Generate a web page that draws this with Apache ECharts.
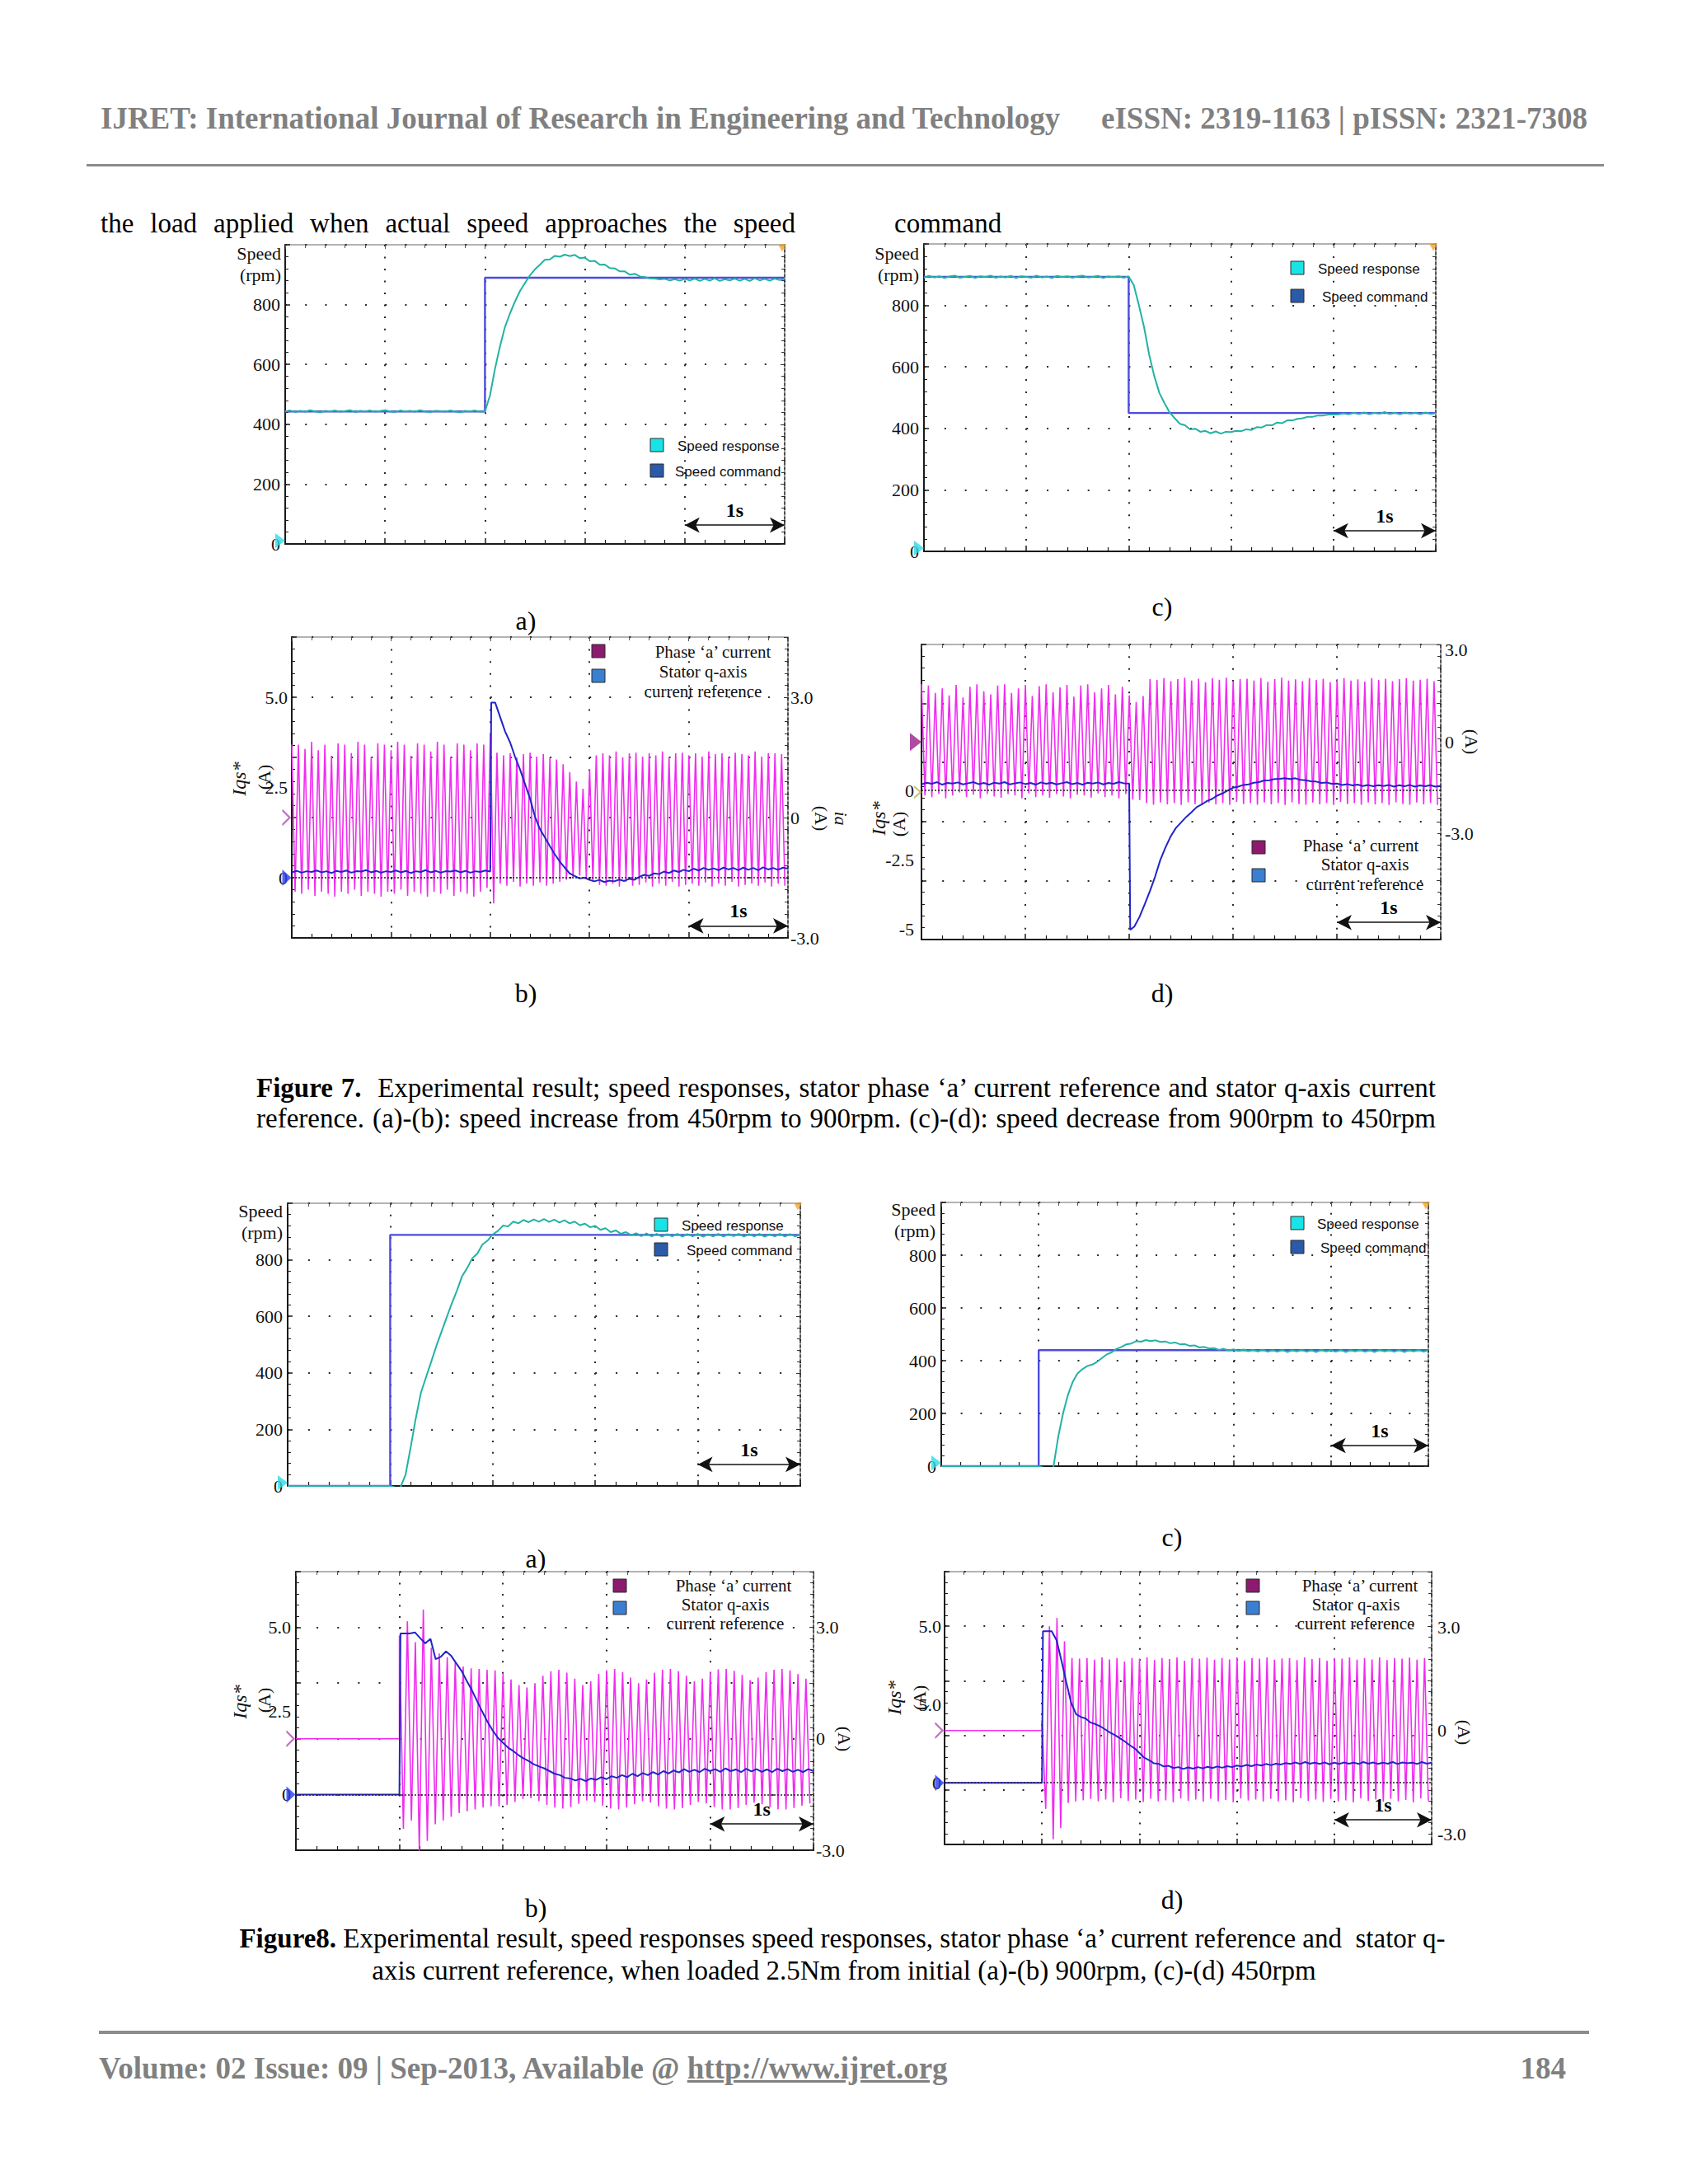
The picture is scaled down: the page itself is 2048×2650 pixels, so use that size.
<!DOCTYPE html>
<html>
<head>
<meta charset="utf-8">
<script src="https://cdn.jsdelivr.net/npm/echarts@6/dist/echarts.min.js"></script>
<style>
html,body{margin:0;padding:0;background:#fff;}
#page{position:relative;width:2048px;height:2650px;overflow:hidden;background:#fff;}
#chart{position:absolute;left:0;top:0;width:2048px;height:2650px;z-index:1;}
.tx{position:absolute;z-index:2;font-family:"Liberation Serif","Times New Roman","DejaVu Serif",serif;color:#000;white-space:nowrap;}
.hd{font-size:37px;line-height:40px;font-weight:bold;color:#808080;}
.rule{position:absolute;z-index:2;height:3px;background:#8c8c8c;}
.body{font-size:33px;line-height:36px;}
.just{text-align:justify;text-align-last:justify;white-space:normal;}
.cap{font-size:33px;line-height:37px;}
.sub{font-size:32px;line-height:36px;width:100px;text-align:center;}
</style>
</head>
<body>
<div id="page">
  <div id="chart"></div>
  <div class="tx hd" style="left:122px;top:124px;">IJRET: International Journal of Research in Engineering and Technology</div>
  <div class="tx hd" style="right:122px;top:124px;">eISSN: 2319-1163 | pISSN: 2321-7308</div>
  <div class="rule" style="left:105px;top:199px;width:1841px;"></div>
  <div class="tx body just" style="left:122px;top:253px;width:843px;">the load applied when actual speed approaches the speed</div>
  <div class="tx body" style="left:1085px;top:253px;">command</div>

  <div class="tx sub" style="left:588px;top:735px;">a)</div>
  <div class="tx sub" style="left:1360px;top:718px;">c)</div>
  <div class="tx sub" style="left:588px;top:1187px;">b)</div>
  <div class="tx sub" style="left:1360px;top:1187px;">d)</div>

  <div class="tx cap just" style="left:311px;top:1302px;width:1431px;"><b>Figure 7.</b>&nbsp; Experimental result; speed responses, stator phase ‘a’ current reference and stator q-axis current</div>
  <div class="tx cap just" style="left:311px;top:1339px;width:1431px;">reference. (a)-(b): speed increase from 450rpm to 900rpm. (c)-(d): speed decrease from 900rpm to 450rpm</div>

  <div class="tx sub" style="left:600px;top:1873px;">a)</div>
  <div class="tx sub" style="left:1372px;top:1847px;">c)</div>
  <div class="tx sub" style="left:600px;top:2297px;">b)</div>
  <div class="tx sub" style="left:1372px;top:2287px;">d)</div>

  <div class="tx cap" style="left:0;width:2044px;text-align:center;top:2334px;"><b>Figure8.</b> Experimental result, speed responses speed responses, stator phase ‘a’ current reference and&nbsp; stator q-</div>
  <div class="tx cap" style="left:0;width:2048px;text-align:center;top:2373px;">axis current reference, when loaded 2.5Nm from initial (a)-(b) 900rpm, (c)-(d) 450rpm</div>

  <div class="rule" style="left:120px;top:2464px;width:1808px;height:4px;"></div>
  <div class="tx hd" style="left:120px;top:2490px;">Volume: 02 Issue: 09 | Sep-2013, Available @ <span style="text-decoration:underline;">http://www.ijret.org</span></div>
  <div class="tx hd" style="right:148px;top:2490px;">184</div>
</div>
<script>
// ================= DATA =================
const DT = 0.05;                       // sampling step of the traced curves (s)
const speedTickLabels = [0, 200, 400, 600, 800];
const iqsTickLabels = [0, 2.5, 5];
const iqsTickLabels7d = [0, -2.5, -5];
const phaseTickLabels = [3, 0, -3];

// ---- Fig 7(a): speed 450 -> 900 rpm ----
const f7aCmdT = [0, 2, 2, 5];
const f7aCmdV = [443, 443, 890, 890];
const f7aRespPre = [443,446,441,445,442,447,443,440,445,443, 446,442,444,447,441,445,443,446,442,444,
  447,443,441,446,443,445,442,447,443,441, 445,444,442,446,443,440,445,443,446,442, 443];
const f7aRespPost = [496,585,660,725,770,810,845,872,898,918, 933,950,951,963,960,967,962,966,955,957,
  945,946,933,934,922,921,911,911,900,903, 894,892,888,887,884,886,881,885,880,886,
  881,887,879,886,880,888,879,885,881,887, 880,886,879,888,881,886,880,887,882,886];

// ---- Fig 7(c): speed 900 -> 450 rpm ----
const f7cCmdT = [0, 2, 2, 5];
const f7cCmdV = [893, 893, 450, 450];
const f7cRespPre = [890,896,891,895,889,894,897,890,893,896, 889,895,892,897,890,894,891,896,889,895,
  893,890,897,891,894,889,896,892,895,890, 894,897,891,893,896,889,894,892,895,890, 894];
const f7cRespPost = [866,800,730,640,570,515,482,452,433,415, 410,397,399,389,392,384,390,383,389,388,
  392,391,397,395,404,403,411,410,419,417, 426,426,431,433,438,438,442,442,445,445,
  446,449,446,451,447,452,446,451,448,453, 447,451,446,452,448,451,446,452,447,450];

// ---- Fig 8(a): loaded start to 900 rpm ----
const f8aCmdT = [0, 1, 1, 5];
const f8aCmdV = [0, 0, 888, 888];
const f8aRespPre = [0,0,0,0,0,0,0,0,0,0, 0,0,0,0,0,0,0,0,0,0, 0];
const f8aRespPost = [-6,-5,40,137,240,330,385,439,495,545, 595,645,690,741,770,805,822,854,868,890,
  902,921,918,935,929,941,933,943,935,944, 934,942,932,940,929,935,922,928,915,920,
  906,912,898,904,892,898,887,894,884,893, 883,892,882,891,883,892,882,891,883,892,
  882,890,883,892,882,891,884,892,882,891, 883,892,882,890,883,892,882,891,883,889];

// ---- Fig 8(c): loaded start to 450 rpm ----
const f8cCmdT = [0, 1, 1, 5];
const f8cCmdV = [0, 0, 440, 440];
const f8cRespPre = [0,0,0,0,0,0,0,0,0,0, 0,0,0,0,0,0,0,0,0,0, 0,-6,-6];
const f8cRespPost = [-6,110,200,270,320,352,368,380,385,396, 410,424,432,445,452,462,465,474,472,478,
  474,477,471,473,466,469,462,463,456,458, 450,452,446,448,441,445,439,443,437,442,
  436,441,435,442,434,440,434,441,433,440, 435,441,434,440,433,441,435,440,434,441,
  433,440,435,441,434,440,433,441,435,440, 434,441,433,440,435,441,434,440];

// ---- Fig 7(b): Iqs* (A) and phase 'a' current (A) ----
const f7bIqsPre = [0.15,0.19,0.14,0.18,0.16,0.2,0.15,0.18,0.13,0.19, 0.16,0.2,0.14,0.18,0.17,0.21,0.15,0.19,0.14,0.18,
  0.16,0.2,0.15,0.19,0.13,0.18,0.16,0.21,0.15,0.19, 0.14,0.18,0.17,0.2,0.15,0.19,0.14,0.18,0.16,0.2, 0.17];
const f7bIqsStep = [2.01, 4.85];
const f7bIqsPost = [4.85,4.45,4.05,3.75,3.35,3.0,2.6,2.2,1.7,1.35, 1.12,0.88,0.65,0.45,0.28,0.12,0.05,-0.02,0.0,-0.06,
  -0.1,-0.06,-0.12,-0.08,-0.1,-0.05,-0.09,-0.03,-0.06,0.02, 0.08,0.05,0.12,0.1,0.17,0.13,0.2,0.16,0.22,0.18,
  0.25,0.2,0.27,0.22,0.26,0.21,0.28,0.23,0.27,0.21, 0.28,0.22,0.27,0.21,0.29,0.23,0.27,0.22,0.28,0.25];
const f7PhasePeriod = 0.0667;
const f7bPhaseUp = [1.82,1.82,1.71,1.89,1.68,1.82,1.54,1.85,1.82,1.61, 1.89,1.82,1.51,1.85,1.82,1.68,1.89,1.82,1.54,1.85,
  1.82,1.65,1.89,1.82,1.51,1.85,1.82,1.68,1.85,1.82, 2.09,
  1.62,1.55,1.6,1.5,1.58,1.62,1.52,1.58,1.5,1.45, 1.33,1.13,0.9,0.72,1.2,1.55,
  1.6,1.55,1.65,1.5,1.6,1.62,1.52,1.6,1.55,1.65, 1.5,1.6,1.62,1.55,1.6,1.52,1.65,1.58,1.6,1.5,
  1.62,1.58,1.55,1.65,1.52,1.6,1.6,1.58];
const f7bPhaseLow = [-1.85,-1.9,-1.8,-1.95,-1.85,-1.9,-1.97,-1.85,-1.9,-1.8, -1.95,-1.85,-1.9,-1.97,-1.85,-1.9,-1.8,-1.95,-1.85,-1.9,
  -1.97,-1.85,-1.9,-1.8,-1.95,-1.85,-1.9,-1.97,-1.85,-1.75, -2.14,
  -1.65,-1.7,-1.6,-1.72,-1.65,-1.7,-1.62,-1.7,-1.65,-1.6, -1.55,-1.5,-1.45,-1.5,-1.6,-1.68,
  -1.7,-1.65,-1.72,-1.6,-1.7,-1.68,-1.62,-1.72,-1.65,-1.7, -1.6,-1.72,-1.68,-1.65,-1.7,-1.62,-1.72,-1.65,-1.7,-1.6,
  -1.72,-1.68,-1.65,-1.7,-1.62,-1.72,-1.65,-1.7];

// ---- Fig 7(d) ----
const f7dIqsPre = [0.22,0.28,0.24,0.3,0.21,0.27,0.25,0.29,0.22,0.26, 0.3,0.23,0.27,0.21,0.28,0.25,0.3,0.22,0.26,0.29,
  0.23,0.27,0.21,0.29,0.24,0.28,0.22,0.26,0.3,0.23, 0.27,0.21,0.28,0.25,0.29,0.22,0.27,0.24,0.3,0.26, 0.25];
const f7dIqsStep = [2.01, -5.02];
const f7dIqsPost = [-4.9,-4.55,-4.1,-3.62,-3.1,-2.5,-2.05,-1.65,-1.35,-1.15, -0.95,-0.78,-0.6,-0.5,-0.38,-0.3,-0.18,-0.1,0.0,0.1,
  0.14,0.2,0.22,0.28,0.3,0.36,0.37,0.41,0.42,0.44, 0.41,0.44,0.38,0.37,0.33,0.32,0.27,0.29,0.24,0.25,
  0.2,0.23,0.18,0.21,0.16,0.2,0.15,0.19,0.16,0.2, 0.14,0.19,0.15,0.2,0.14,0.18,0.15,0.19,0.14,0.17];
const f7dPhaseUp = [1.88,1.84,1.6,1.75,1.52,1.86,1.45,1.8,1.88,1.65, 1.55,1.84,1.88,1.6,1.75,1.86,1.5,1.82,1.88,1.62,
  1.78,1.86,1.48,1.84,1.88,1.62,1.75,1.86,1.55,1.8, 1.52,
  1.3,1.5,2.05,2.02,2.08,1.98,2.05,2.1,2.0,2.06, 1.95,2.08,2.03,2.1,1.98,2.05,2.06,2.0,2.08,1.96,
  2.05,2.1,2.0,2.04,1.98,2.08,2.02,2.06,1.95,2.05, 2.08,2.0,2.04,1.97,2.08,2.02,2.06,1.98,2.05,2.08,
  2.0,2.03,2.06,1.98];
const f7dPhaseLow = [-1.75,-1.8,-1.7,-1.84,-1.75,-1.65,-1.8,-1.72,-1.84,-1.7, -1.78,-1.82,-1.7,-1.75,-1.84,-1.68,-1.8,-1.75,-1.82,-1.7,
  -1.78,-1.84,-1.72,-1.75,-1.82,-1.68,-1.8,-1.75,-1.84,-1.7, -1.88,
  -1.9,-2.0,-2.05,-1.98,-2.04,-2.0,-2.06,-1.97,-2.03,-2.05, -1.98,-2.04,-2.0,-2.06,-1.96,-2.03,-2.0,-2.05,-1.98,-2.04,
  -2.0,-2.06,-1.97,-2.03,-2.05,-1.98,-2.04,-2.0,-2.06,-1.96, -2.03,-2.0,-2.05,-1.98,-2.04,-2.0,-2.06,-1.97,-2.03,-2.05,
  -1.98,-2.04,-2.0,-2.06];

// ---- Fig 8(b) ----
const f8IdleT = [0, 1.0];
const f8IdleV = [0, 0];
const f8bIqsStep = [1.01, 4.82];
const f8bIqsPost = [4.82,4.82,4.85,4.68,4.52,4.66,4.05,4.12,4.28,4.15, 3.92,3.7,3.4,3.12,2.8,2.48,2.18,1.92,1.7,1.55,
  1.4,1.3,1.18,1.08,1.0,0.9,0.84,0.78,0.7,0.62, 0.58,0.5,0.48,0.42,0.47,0.4,0.48,0.44,0.52,0.46,
  0.55,0.5,0.58,0.52,0.62,0.55,0.64,0.58,0.67,0.6, 0.7,0.63,0.72,0.66,0.76,0.68,0.74,0.67,0.77,0.7,
  0.76,0.68,0.78,0.7,0.75,0.67,0.77,0.69,0.76,0.68, 0.75,0.67,0.77,0.7,0.76,0.68,0.74,0.67,0.76,0.7];
const f8PhasePeriod = 0.077;
const f8bPhaseUp = [2.78,3.16,2.6,3.48,2.45,2.3,2.2,2.05,1.95,1.9,1.88,1.86,
  1.84,1.75,1.6,1.45,1.38,1.5,1.7,1.82,1.86,1.78, 1.62,1.45,1.55,1.75,1.85,1.88,1.8,1.65,1.5,1.6,
  1.78,1.86,1.88,1.82,1.7,1.55,1.62,1.8,1.87,1.88, 1.83,1.72,1.58,1.65,1.8,1.86,1.88,1.84,1.74,1.62];
const f8bPhaseLow = [-2.42,-2.2,-3.04,-2.75,-2.3,-2.2,-2.1,-2.0,-1.95,-1.9,-1.85,-1.82,
  -1.82,-1.78,-1.7,-1.62,-1.6,-1.68,-1.78,-1.85,-1.88,-1.84, -1.75,-1.66,-1.7,-1.8,-1.88,-1.9,-1.85,-1.76,-1.68,-1.72,
  -1.82,-1.88,-1.9,-1.86,-1.78,-1.7,-1.74,-1.84,-1.9,-1.9, -1.86,-1.78,-1.72,-1.76,-1.84,-1.9,-1.9,-1.86,-1.8,-1.74];

// ---- Fig 8(d) ----
const f8dIqsStep = [1.01, 4.84];
const f8dIqsPost = [4.84,4.84,4.55,3.9,3.2,2.55,2.19,2.1,2.05,1.92, 1.87,1.8,1.7,1.6,1.52,1.42,1.32,1.2,1.1,0.95,
  0.8,0.72,0.62,0.6,0.52,0.54,0.47,0.5,0.44,0.49, 0.45,0.5,0.46,0.51,0.47,0.52,0.48,0.53,0.5,0.55,
  0.52,0.57,0.53,0.58,0.55,0.6,0.56,0.61,0.58,0.63, 0.6,0.65,0.6,0.66,0.61,0.64,0.6,0.65,0.59,0.64,
  0.6,0.65,0.61,0.64,0.6,0.66,0.61,0.65,0.6,0.64, 0.61,0.66,0.6,0.65,0.62,0.64,0.6,0.66,0.61,0.64];
const f8dPhaseUp = [0.3,3.02,3.26,2.58,2.1,
  2.08,2.1,2.05,2.12,2.06,2.1,2.0,2.1,2.08,2.12, 2.04,2.1,2.07,2.12,2.02,2.1,2.08,2.11,2.05,2.1,
  2.06,2.12,2.03,2.1,2.08,2.12,2.05,2.09,2.1,2.04, 2.12,2.07,2.1,2.02,2.1,2.08,2.12,2.05,2.1,2.06,
  2.12,2.04,2.1,2.08,2.11,2.05,2.1];
const f8dPhaseLow = [-2.27,-3.15,-2.83,-2.1,-2.05,
  -2.02,-1.98,-2.05,-2.0,-2.08,-1.96,-2.04,-2.0,-2.07,-1.98, -2.05,-2.02,-2.08,-1.97,-2.04,-2.0,-2.06,-1.98,-2.05,-2.01,
  -2.08,-1.97,-2.03,-2.0,-2.06,-1.98,-2.05,-2.02,-2.08,-1.96, -2.04,-2.0,-2.07,-1.98,-2.05,-2.02,-2.08,-1.97,-2.04,-2.0,
  -2.06,-1.98,-2.05,-2.01,-2.08,-1.97,-2.03];

// ================= helpers =================
const SERIF = '"Liberation Serif","Times New Roman",serif';
const SANS = '"Liberation Sans",Arial,sans-serif';
const C_RESP = '#22b2a4', C_CMD = '#4c4cdc', C_PH = '#f02cf0', C_IQS = '#2323c8';

function sampled(t0, dt, vals){ return vals.map((v,i)=>[+(t0+i*dt).toFixed(4), v]); }
function pairs(ts, vs){ return ts.map((t,i)=>[t, vs[i]]); }
function zigzag(t0, period, ups, lows){
  const out=[];
  ups.forEach((u,i)=>{ out.push([+(t0+i*period).toFixed(4), u]); out.push([+(t0+(i+0.5)*period).toFixed(4), lows[i]]); });
  return out;
}

const grids=[], xAxes=[], yAxes=[], series=[], graphics=[];

function frame(l,t,w,h){
  const gi = grids.length;
  grids.push({left:l, top:t, width:w, height:h, show:true, borderColor:'#9a9a9a', borderWidth:1.5, backgroundColor:'transparent'});
  const dotH=[2, w/25-2], dotV=[2, h/25-2];
  const xi = xAxes.length;
  xAxes.push({type:'value', gridIndex:gi, min:0, max:5, interval:1, position:'bottom',
    axisLine:{show:true,onZero:false,lineStyle:{color:'#1a1a1a',width:2}},
    axisTick:{show:true,inside:true,length:7,lineStyle:{color:'#1a1a1a',width:1.5}},
    minorTick:{show:true,splitNumber:5,length:5,lineStyle:{color:'#1a1a1a',width:1.2}},
    axisLabel:{show:false},
    splitLine:{show:true,lineStyle:{color:'#2a2a2a',width:2,type:dotV}}});
  xAxes.push({type:'value', gridIndex:gi, min:0, max:5, interval:1, position:'top',
    axisLine:{show:false,onZero:false},
    axisTick:{show:true,inside:true,length:5,lineStyle:{color:'#555'}},
    minorTick:{show:true,splitNumber:5,length:4,lineStyle:{color:'#555'}},
    axisLabel:{show:false}, splitLine:{show:false}});
  const gy = yAxes.length;
  yAxes.push({type:'value', gridIndex:gi, min:0, max:5, interval:1, position:'left',
    axisLine:{show:true,onZero:false,lineStyle:{color:'#1a1a1a',width:2}},
    axisTick:{show:true,inside:true,length:6,lineStyle:{color:'#1a1a1a',width:1.5}},
    minorTick:{show:true,splitNumber:5,length:4,lineStyle:{color:'#1a1a1a'}},
    axisLabel:{show:false},
    splitLine:{show:true,lineStyle:{color:'#2a2a2a',width:2,type:dotH}}});
  yAxes.push({type:'value', gridIndex:gi, min:0, max:5, interval:1, position:'right',
    axisLine:{show:true,onZero:false,lineStyle:{color:'#333',width:1.5,type:[3,3]}},
    axisTick:{show:true,inside:true,length:5,lineStyle:{color:'#333'}},
    minorTick:{show:true,splitNumber:5,length:4,lineStyle:{color:'#333'}},
    axisLabel:{show:false}, splitLine:{show:false}});
  return {gi, xi, gy};
}

function labelAxis(gi, pos, min, max, ticks, fmt, margin){
  const idx = yAxes.length;
  yAxes.push({type:'value', gridIndex:gi, position:pos, min, max,
    axisLine:{show:false,onZero:false}, axisTick:{show:false}, splitLine:{show:false},
    axisLabel:{show:true, customValues:ticks, formatter:fmt, margin, fontFamily:SERIF, fontSize:22, color:'#111'}});
  return idx;
}

function arrow1s(f, y){
  series.push({type:'line', xAxisIndex:f.xi, yAxisIndex:f.gy, data:[[4,y],[5,y]], symbol:'none', silent:true,
    lineStyle:{opacity:0}, z:8,
    markLine:{silent:true, animation:false, symbol:['arrow','arrow'], symbolSize:[14,18],
      lineStyle:{color:'#111', width:1.6, type:'solid'},
      label:{show:true, position:'insideMiddleTop', formatter:'1s', distance:6, fontFamily:SERIF, fontWeight:'bold', fontSize:24, color:'#000'},
      data:[[{coord:[4,y]},{coord:[5,y]}]]}});
}

function marker(f, yIdx, x, y, path, size, offset, color, border){
  series.push({type:'scatter', xAxisIndex:f.xi, yAxisIndex:yIdx, data:[[x,y]], symbol:path, symbolSize:size,
    symbolOffset:offset, silent:true, clip:false, z:9,
    itemStyle: border ? {color:'none', borderColor:color, borderWidth:2} : {color:color}});
}
const TRI_R = 'path://M0,0 L10,6 L0,12 Z';
const TRI_D = 'path://M0,0 L12,0 L6,10 Z';
const CHEV = 'path://M0,0 L8,7 L0,14';

function T(x,y,text,o){
  o=o||{};
  graphics.push({type:'text', x, y, rotation:o.rot||0, silent:true, z:20,
    style:{text, fill:o.color||'#111',
      font:(o.italic?'italic ':'')+(o.bold?'bold ':'')+(o.size||22)+'px '+(o.family||SERIF),
      textAlign:o.align||'left', textVerticalAlign:'middle'}});
}
function R(x,y,w,h,fill){
  graphics.push({type:'rect', shape:{x,y,width:w,height:h}, silent:true, z:20, style:{fill, stroke:'#2a2a2a', lineWidth:1}});
}

// ================= speed charts =================
function speedChart(rect, cmdT, cmdV, pre, postT0, post, arrowY, lbl){
  const f = frame(rect[0],rect[1],rect[2],rect[3]);
  const vy = labelAxis(f.gi, 'left', 0, 1000, speedTickLabels, v=>String(v), 6);
  series.push({type:'line', xAxisIndex:f.xi, yAxisIndex:vy, data:pairs(cmdT,cmdV), symbol:'none', silent:true,
    lineStyle:{color:C_CMD, width:2.4}, z:3});
  series.push({type:'line', xAxisIndex:f.xi, yAxisIndex:vy, data:sampled(0,DT,pre).concat(sampled(postT0,DT,post)),
    symbol:'none', silent:true, lineStyle:{color:C_RESP, width:2}, z:4});
  marker(f, vy, 0, 0, TRI_R, [12,18], [-6,-4], '#2fd9e2');
  marker(f, vy, 5, 1000, TRI_D, [10,9], [-3,4], '#f2a22a');
  arrow1s(f, arrowY);
  T(lbl[0], lbl[1], 'Speed', {align:'right'});
  T(lbl[0], lbl[1]+26, '(rpm)', {align:'right'});
  const L = lbl.slice(2);
  R(L[0], L[1]-8, 16, 16, '#19e3e6');
  R(L[0], L[2]-8, 16, 16, '#2a5aa8');
  T(L[3], L[1]+1, 'Speed response', {family:SANS, size:17});
  T(L[4], L[2]+1, 'Speed command', {family:SANS, size:17});
}

speedChart([346,297,606,363], f7aCmdT, f7aCmdV, f7aRespPre, 2.05, f7aRespPost, 0.315,
  [341,307, 789,540,571, 822,819]);
speedChart([1121,296,621,373], f7cCmdT, f7cCmdV, f7cRespPre, 2.05, f7cRespPost, 0.335,
  [1115,307, 1566,325,359, 1599,1604]);
speedChart([349,1460,622,343], f8aCmdT, f8aCmdV, f8aRespPre, 1.05, f8aRespPost, 0.38,
  [343,1469, 794,1486,1516, 827,833]);
speedChart([1142,1459,591,320], f8cCmdT, f8cCmdV, f8cRespPre, 1.15, f8cRespPost, 0.39,
  [1135,1467, 1566,1484,1513, 1598,1602]);

// ================= current charts =================
function fmtL(v){ return v===0 ? '0' : v.toFixed(1); }
function fmtL7d(v){ return v===0 ? '0' : (v===-5 ? '-5' : v.toFixed(1)); }
function fmtR(v){ return v===0 ? '0' : v.toFixed(1); }

function currentChart(cfg){
  const r = cfg.rect;
  const f = frame(r[0],r[1],r[2],r[3]);
  const ly = labelAxis(f.gi, 'left', cfg.lmin, cfg.lmax, cfg.lticks, cfg.lfmt || fmtL, cfg.lmargin);
  const ry = labelAxis(f.gi, 'right', cfg.rmin, cfg.rmax, phaseTickLabels, fmtR, cfg.rmargin);
  series.push({type:'line', xAxisIndex:f.xi, yAxisIndex:ry, data:cfg.phase, symbol:'none', silent:true,
    lineStyle:{color:C_PH, width:1.6}, z:2});
  series.push({type:'line', xAxisIndex:f.xi, yAxisIndex:ly, data:cfg.iqs, symbol:'none', silent:true,
    lineStyle:{color:C_IQS, width:2}, z:3,
    markLine:{silent:true, animation:false, symbol:'none', label:{show:false},
      lineStyle:{color:'#222', width:1.6, type:[2,2]}, data:[{yAxis:0}]}});
  if (cfg.d) {
    marker(f, ry, 0, 0, TRI_R, [14,22], [-7,0], '#9a1f8c');
    marker(f, ly, 0, 0, CHEV, [8,14], [-5,2], '#b8b850', true);
  } else {
    marker(f, ry, 0, 0, CHEV, [9,18], [-7,0], '#b050b0', true);
    marker(f, ly, 0, 0, TRI_R, [11,20], [-6,0], '#2a3cf0');
  }
  arrow1s(f, cfg.arrowY);
  T(cfg.iqsT[0], cfg.iqsT[1], 'Iqs*', {rot:Math.PI/2, italic:true, align:'center', size:24});
  T(cfg.iqsT[2], cfg.iqsT[3], '(A)', {rot:Math.PI/2, align:'center', size:22});
  T(cfg.rT[0], cfg.rT[1], '(A)', {rot:-Math.PI/2, align:'center', size:22});
  if (cfg.ia) T(cfg.ia[0], cfg.ia[1], 'ia', {rot:-Math.PI/2, italic:true, align:'center', size:22});
  const g = cfg.leg;
  R(g[0], g[1]-8, 16, 16, '#8c1a6e');
  R(g[0], g[2]-8, 16, 16, '#3a7fd0');
  T(g[3], g[4], 'Phase ‘a’ current', {align:'center', size:21});
  T(g[5], g[6], 'Stator q-axis', {align:'center', size:21});
  T(g[5], g[7], 'current reference', {align:'center', size:21});
}

currentChart({rect:[354,773,602,365], lmin:-5/3, lmax:20/3, lticks:iqsTickLabels, lmargin:5,
  rmin:-3, rmax:4.5, rmargin:3,
  phase: zigzag(0, f7PhasePeriod, f7bPhaseUp, f7bPhaseLow),
  iqs: sampled(0,DT,f7bIqsPre).concat([f7bIqsStep], sampled(2.05,DT,f7bIqsPost)),
  arrowY:0.2, iqsT:[290,945,320,943], rT:[996,993], ia:[1020,993],
  leg:[718,790,820, 865,791, 853,815,839]});

currentChart({rect:[1118,782,630,358], lmin:-5.37, lmax:5.26, lticks:iqsTickLabels7d, lfmt:fmtL7d, lmargin:9,
  rmin:-6.45, rmax:3.18, rmargin:5, d:true,
  phase: zigzag(0, f7PhasePeriod, f7dPhaseUp, f7dPhaseLow),
  iqs: sampled(0,DT,f7dIqsPre).concat([f7dIqsStep], sampled(2.05,DT,f7dIqsPost)),
  arrowY:0.29, iqsT:[1066,993,1090,1000], rT:[1785,900],
  leg:[1519,1028,1062, 1651,1026, 1656,1049,1073]});

currentChart({rect:[359,1907,628,338], lmin:-5/3, lmax:20/3, lticks:iqsTickLabels, lmargin:6,
  rmin:-3, rmax:4.5, rmargin:3,
  phase: pairs(f8IdleT, f8IdleV).concat(zigzag(1.0, f8PhasePeriod, f8bPhaseUp, f8bPhaseLow)),
  iqs: pairs(f8IdleT, f8IdleV).concat([f8bIqsStep], sampled(1.05,DT,f8bIqsPost)),
  arrowY:0.47, iqsT:[291,2065,320,2063], rT:[1024,2110],
  leg:[744,1924,1951, 890,1924, 880,1947,1970]});

currentChart({rect:[1146,1907,591,331], lmin:-1.97, lmax:6.74, lticks:iqsTickLabels, lmargin:4,
  lfmt: v => v===0 ? '0' : '5.0',
  rmin:-3.3, rmax:4.6, rmargin:7,
  phase: pairs(f8IdleT, f8IdleV).concat(zigzag(1.0, f8PhasePeriod, f8dPhaseUp, f8dPhaseLow)),
  iqs: pairs(f8IdleT, f8IdleV).concat([f8dIqsStep], sampled(1.05,DT,f8dIqsPost)),
  arrowY:0.45, iqsT:[1085,2060,1115,2060], rT:[1776,2102],
  leg:[1512,1924,1951, 1650,1924, 1645,1947,1970]});

const chart = echarts.init(document.getElementById('chart'), null, {renderer:'svg', width:2048, height:2650});
chart.setOption({animation:false, backgroundColor:'transparent', grid:grids, xAxis:xAxes, yAxis:yAxes, series, graphic:graphics});
</script>
</body>
</html>
